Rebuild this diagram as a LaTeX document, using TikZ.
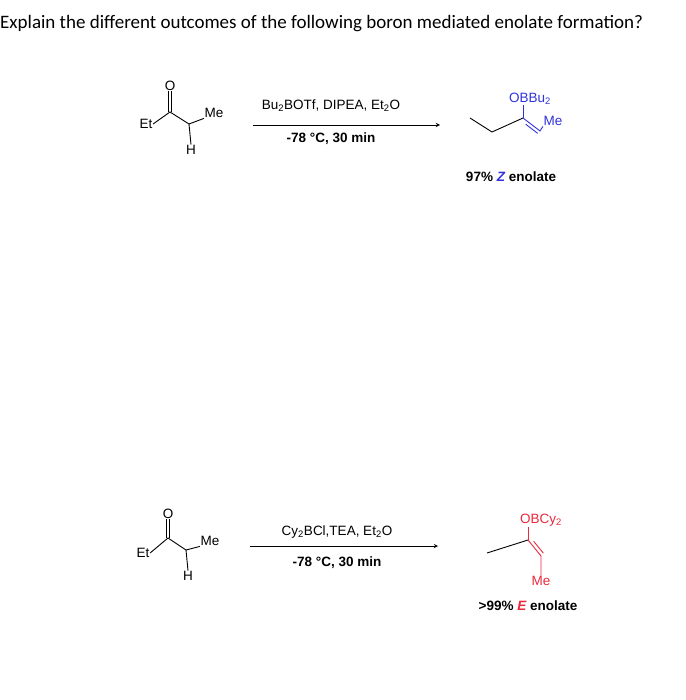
\documentclass[tikz,border=0pt]{standalone}
\usepackage{fontspec}
\usetikzlibrary{calc}
\setmainfont{Liberation Sans}
\newfontfamily\titlefont{Carlito}
\definecolor{zblue}{RGB}{50,50,220}
\definecolor{ered}{RGB}{235,40,60}
\begin{document}
\begin{tikzpicture}[x=1pt,y=-1pt,
  lbl/.style={inner sep=0.5pt,font=\fontsize{13.5}{15}\selectfont},
  bnd/.style={line width=0.9pt},
  txt/.style={inner sep=0pt,font=\fontsize{13.5}{15}\selectfont},
  rxn/.style={-stealth,line width=0.9pt}]
\useasboundingbox[fill=white] (0,0) rectangle (685,700);
\node[anchor=west,inner sep=0pt,font=\titlefont\fontsize{19}{22}\selectfont] (title) at (0,24) {Explain the different outcomes of the following boron mediated enolate formation?};
% top ketone
\node[lbl] (et1) at (146,124) {Et};
\node[lbl] (o1) at (170,86) {O};
\coordinate (c1) at (170,112);
\coordinate (ch1) at (189,124);
\node[lbl] (me1) at (214,113) {Me};
\node[lbl] (h1) at (191,150) {H};
\draw[bnd] (et1.east) -- (c1) -- (ch1) -- (me1.south west);
\draw[bnd] (ch1) -- (h1.north);
\draw[bnd] ([xshift=-1.5pt]c1) -- ([xshift=-1.5pt]o1.south);
\draw[bnd] ([xshift=1.5pt]c1) -- ([xshift=1.5pt]o1.south);
\coordinate (a1s) at (253,125); \coordinate (a1e) at (440,125);
\draw[rxn] (a1s) -- (a1e);
\node[txt] (r1) at (331,106) {Bu\textsubscript{2}BOTf, DIPEA, Et\textsubscript{2}O};
\node[txt,font=\bfseries\fontsize{13.5}{15}\selectfont] (k1) at (331,139) {-78 °C, 30 min};
% top product
\coordinate (p1a) at (470,118); \coordinate (p1b) at (492,132); \coordinate (p1c) at (523,118);
\coordinate (p1d) at (540,131);
\node[lbl,text=zblue] (ob1) at (530,99) {OBBu\textsubscript{2}};
\node[lbl,text=zblue] (pm1) at (553,121) {Me};
\draw[bnd] (p1a) -- (p1b) -- (p1c);
\draw[bnd,zblue] (p1c) -- (ob1.south west -| p1c) ;
\draw[bnd,zblue] (p1c) -- (p1d) -- (pm1.south west);
\draw[bnd,zblue] ($(p1c)!0.25!(p1d)+(-1.5,3)$) -- ($(p1c)!0.95!(p1d)+(-1.5,3)$);
\node[txt,font=\bfseries\fontsize{13.5}{15}\selectfont] (y1) at (511,177) {97\% \textcolor{zblue}{\itshape Z} enolate};
% bottom ketone
\node[lbl] (et2) at (143,553) {Et};
\node[lbl] (o2) at (168,514) {O};
\coordinate (c2) at (168,538);
\coordinate (ch2) at (186,550);
\node[lbl] (me2) at (210,541) {Me};
\node[lbl] (h2) at (188,576) {H};
\draw[bnd] (et2.east) -- (c2) -- (ch2) -- (me2.south west);
\draw[bnd] (ch2) -- (h2.north);
\draw[bnd] ([xshift=-1.5pt]c2) -- ([xshift=-1.5pt]o2.south);
\draw[bnd] ([xshift=1.5pt]c2) -- ([xshift=1.5pt]o2.south);
\coordinate (a2s) at (250,546); \coordinate (a2e) at (438,546);
\draw[rxn] (a2s) -- (a2e);
\node[txt] (r2) at (337,532) {Cy\textsubscript{2}BCl,TEA, Et\textsubscript{2}O};
\node[txt,font=\bfseries\fontsize{13.5}{15}\selectfont] (k2) at (337,563) {-78 °C, 30 min};
% bottom product
\coordinate (p2a) at (487,553); \coordinate (p2c) at (528,540); \coordinate (p2d) at (541,556);
\node[lbl,text=ered] (ob2) at (541,520) {OBCy\textsubscript{2}};
\node[lbl,text=ered] (pm2) at (541,581) {Me};
\draw[bnd] (p2a) -- (p2c);
\draw[bnd,ered] (p2c) -- (p2c |- ob2.south);
\draw[bnd,ered] (p2c) -- (p2d) -- (pm2.north -| p2d);
\draw[bnd,ered] ($(p2c)!0.2!(p2d)+(3,-2)$) -- ($(p2c)!0.95!(p2d)+(3,-2)$);
\node[txt,font=\bfseries\fontsize{13.5}{15}\selectfont] (y2) at (528,606) {>99\% \textcolor{ered}{\itshape E} enolate};
\end{tikzpicture}
\end{document}
